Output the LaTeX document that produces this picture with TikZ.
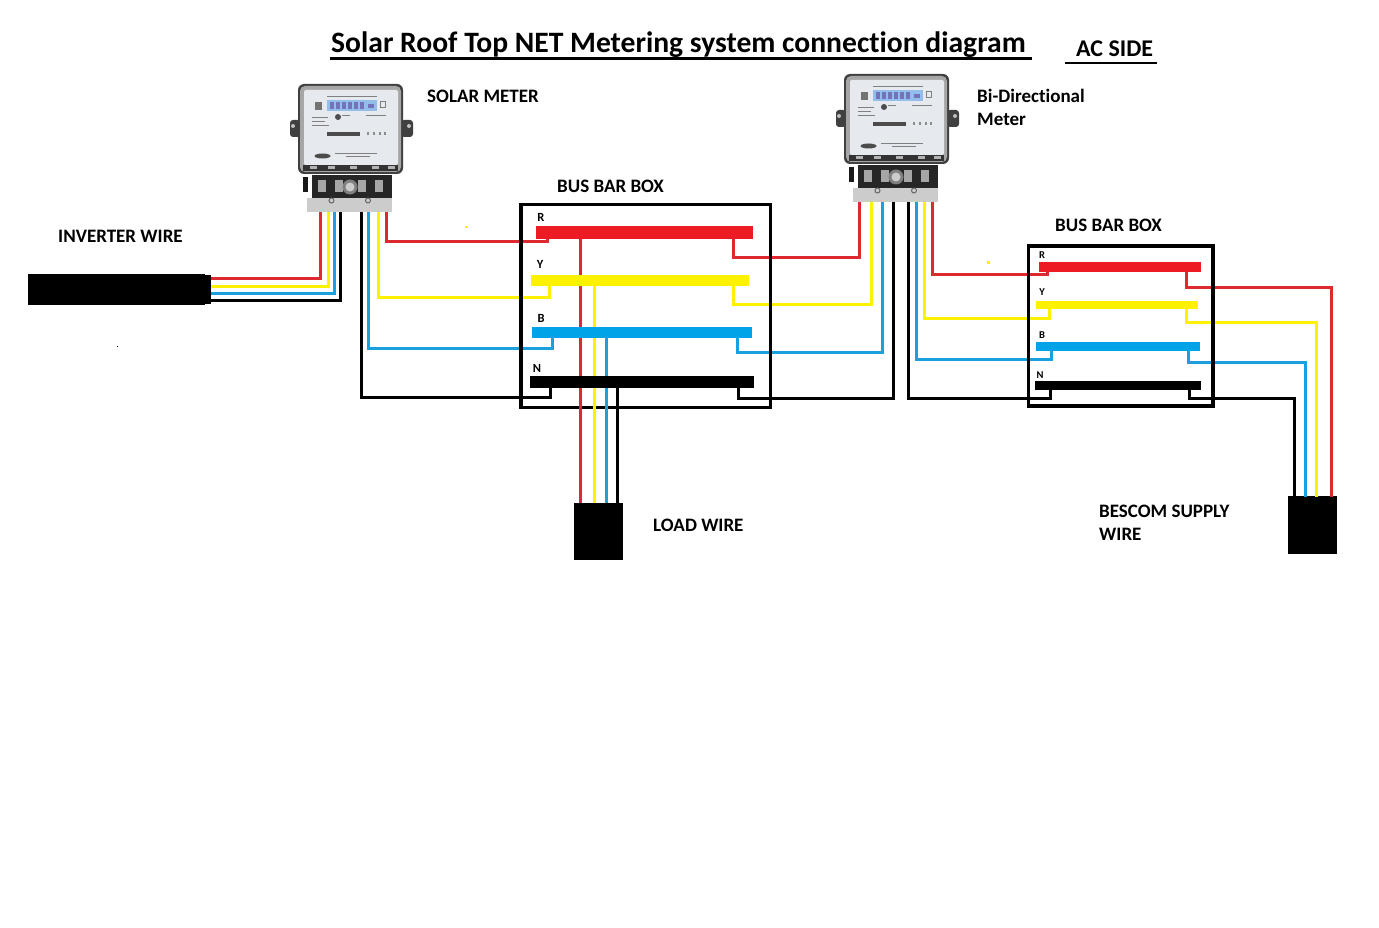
\documentclass[tikz,border=0pt]{standalone}
\usepackage{fontspec}
\setmainfont{Carlito}[Ligatures=NoCommon]
\usetikzlibrary{calc,positioning}
\definecolor{busred}{HTML}{ED1C24}
\definecolor{busyellow}{HTML}{FFF200}
\definecolor{busblue}{HTML}{00A2E8}
\definecolor{wirered}{HTML}{DC2A30}
\definecolor{wireblue}{HTML}{1AA0DC}
\definecolor{lcdblue}{HTML}{93BDEB}
\definecolor{faceplate}{HTML}{E6EAEF}
\begin{document}
\begin{tikzpicture}[x=1pt,y=-1pt]

\tikzset{wire/.style={line width=3pt},
wireR/.style={wire,color=wirered},
wireY/.style={wire,color=busyellow},
wireB/.style={wire,color=wireblue},
wireN/.style={wire,color=black},
busbar/.style={shape=rectangle,inner sep=0pt,minimum height=#1},
boxframe/.style={draw=black,line width=3.5pt,shape=rectangle,inner sep=0pt},
blackblock/.style={fill=black,shape=rectangle,inner sep=0pt},
caption/.style={font=\fontsize{19}{22}\selectfont\bfseries,anchor=base west,inner sep=0pt},
phase/.style={font=\fontsize{12.5}{14}\selectfont\bfseries,inner sep=0pt},
phasesmall/.style={font=\fontsize{10.5}{12}\selectfont\bfseries,inner sep=0pt},
energymeter/.pic={
  % ears and case
  \fill[black!75,rounded corners=3pt] (-8,36) rectangle (2,53); \fill[black!75,rounded corners=3pt] (103,36) rectangle (115,53);
  \fill[black!25] (-5,42) circle (2pt); \fill[black!25] (111,42) circle (2pt);
  \fill[black!75,rounded corners=6pt] (0,0) rectangle (105,90);
  \fill[black!35,rounded corners=5pt] (2,2) rectangle (103,88);
  \fill[faceplate,rounded corners=2pt] (6,6) rectangle (100,81);
  \fill[black!80] (5,81) rectangle (100,87);
  \foreach \x in {12,30,52,74,90} \fill[black!30] (\x,82) rectangle +(7,3);
  % display
  \fill[lcdblue] (29,16) rectangle (79,27);
  \foreach \x in {32,38,...,62} \fill[blue!50!black!55] (\x,18) rectangle +(4,7);
  \fill[blue!50!black!55] (70,20) rectangle +(6,4);
  \draw[black!50] (82,17) rectangle +(5,6);
  \fill[black!55] (17,18) rectangle +(7,8);
  % printed lines
  \foreach \y/\a/\b in {12/29/79,31/68/88,33/14/30,37/14/27,41/14/31,31/44/52,69/37/79,72/48/72} \fill[black!50] (\a,\y) rectangle (\b,\y+1.5);
  \fill[black!70] (29,48) rectangle (62,52);
  \foreach \x in {69,75,81,86} \fill[black!45] (\x,48.5) rectangle +(2,3);
  \fill[black!70] (40,33) circle (3pt);
  \fill[black!70] (24.5,72) ellipse (8pt and 2.5pt);
  % terminal block
  \fill[black!90] (5,93) rectangle (10,108);
  \fill[black!20] (9,114) rectangle (94,128);
  \fill[black!85] (14,91) rectangle (94,114);
  \foreach \x in {24,41,64,81} \fill[black!35] (\x-4,96) rectangle +(8,12);
  \fill[black!50] (52,103) circle (7.5pt);
  \fill[black!20] (52,103) circle (4.5pt);
  \foreach \x in {33.5,70} \draw[black!60,line width=1pt] (\x,116.5) circle (2.5pt);
}}

% Meters
\pic at (298,84) {energymeter};
\pic at (844,74) {energymeter};

% Labels
\node[caption,font=\fontsize{29.6}{34}\selectfont\bfseries] (title) at (331,53) {Solar Roof Top NET Metering system connection diagram};
\node[caption,font=\fontsize{24}{28}\selectfont\bfseries] (acside) at (1076,57) {AC SIDE};
\node[caption] (solarLabel) at (427,103) {SOLAR METER};
\node[caption] (bidirLabel) at (977,103) {Bi-Directional};
\node[caption] (bidirLabelB) at (977,126) {Meter};
\node[caption] (busLabelA) at (557,193) {BUS BAR BOX};
\node[caption] (busLabelB) at (1055,232) {BUS BAR BOX};
\node[caption] (inverterLabel) at (58,243) {INVERTER WIRE};
\node[caption] (loadLabel) at (653,531) {LOAD WIRE};
\node[caption] (bescomLabel) at (1099,517) {BESCOM SUPPLY};
\node[caption] (bescomLabelB) at (1099,540) {WIRE};

% Underlines
\coordinate (titleUa) at (330,59); \coordinate (titleUb) at (1032,59);
\coordinate (acUa) at (1065,63); \coordinate (acUb) at (1157,63);
\draw[line width=3pt] (titleUa) -- (titleUb);
\draw[line width=2.5pt] (acUa) -- (acUb);

% Cables
\node[blackblock,minimum width=177pt,minimum height=31pt] (inverter) at (116.5,289.5) {};
\node[blackblock,minimum width=6pt,minimum height=29pt] (inverterTip) at (208,289.5) {};
\node[blackblock,minimum width=49pt,minimum height=57pt] (load) at (598.5,531.5) {};
\node[blackblock,minimum width=49pt,minimum height=58pt] (bescom) at (1312.5,525) {};

% Bus bars, left box
\node[busbar=13pt,minimum width=217pt,fill=busred] (barR) at (644.5,232.5) {};
\node[busbar=11pt,minimum width=218pt,fill=busyellow] (barY) at (640,280.5) {};
\node[busbar=11pt,minimum width=220pt,fill=busblue] (barB) at (642,332.5) {};
\node[busbar=12pt,minimum width=224pt,fill=black] (barN) at (642,382) {};

% Bus bars, right box
\node[busbar=10pt,minimum width=162pt,fill=busred] (barRr) at (1120,267) {};
\node[busbar=8pt,minimum width=162pt,fill=busyellow] (barYr) at (1117,305) {};
\node[busbar=9pt,minimum width=164pt,fill=busblue] (barBr) at (1118,346.5) {};
\node[busbar=9pt,minimum width=166pt,fill=black] (barNr) at (1118,385.5) {};

% Wire ends
\foreach \n/\x in {R/320,Y/328,B/334,N/340.5} \coordinate (invIn\n) at (\x,212);
\foreach \n/\x in {N/361.5,B/368,Y/378,R/386} \coordinate (solarOut\n) at (\x,212);
\foreach \n/\x in {R/859,Y/871,B/882,N/893} \coordinate (bidirIn\n) at (\x,202);
\foreach \n/\x in {N/908,B/916,Y/924,R/932} \coordinate (bidirOut\n) at (\x,202);
\foreach \n/\y in {R/278,Y/286,B/293,N/300} \coordinate (invStart\n) at (211,\y);
\foreach \n/\x/\y in {R/547/242,Y/549/297,B/552/348,N/550/397} \coordinate (boxIn\n) at (\x,\y);
\foreach \n/\x/\y in {R/733/258,Y/733/304,B/737/352,N/738/398} \coordinate (boxOut\n) at (\x,\y);
\foreach \n/\x/\y in {R/1047/274,Y/1049/318,B/1051/359,N/1050/398} \coordinate (boxrIn\n) at (\x,\y);
\foreach \n/\x/\y in {R/1186/287,Y/1186/322,B/1188/362,N/1189/398} \coordinate (boxrOut\n) at (\x,\y);
\foreach \n/\x in {R/1331,Y/1316,B/1305,N/1294} \coordinate (bescomIn\n) at (\x,497);
\foreach \n/\x in {R/580,Y/594,B/606,N/617} \coordinate (loadIn\n) at (\x,503);

% Wires: inverter to solar meter, meters to boxes, box to supply
\foreach \n/\s/\b/\bb in {R/wireR/barR/barRr,Y/wireY/barY/barYr,B/wireB/barB/barBr,N/wireN/barN/barNr} {
  \draw[\s] (invStart\n) -| (invIn\n);
  \draw[\s] (solarOut\n) |- (boxIn\n) -- (boxIn\n |- \b.south);
  \draw[\s] (boxOut\n |- \b.south) -- (boxOut\n) -| (bidirIn\n);
  \draw[\s] (bidirOut\n) |- (boxrIn\n) -- (boxrIn\n |- \bb.south);
  \draw[\s] (boxrOut\n |- \bb.south) -- (boxrOut\n) -| (bescomIn\n);
}

% Box frames
\node[boxframe,minimum width=249.5pt,minimum height=202.5pt] (boxA) at (645.5,306) {};
\node[boxframe,minimum width=184.5pt,minimum height=159.5pt] (boxB) at (1120.5,326) {};

% Load wires
\draw[wireR] (barR.south -| loadInR) -- (loadInR);
\draw[wireY] (barY.south -| loadInY) -- (loadInY);
\draw[wireB] (barB.south -| loadInB) -- (loadInB);
\draw[wireN] (barN.south -| loadInN) -- (loadInN);

% Bars again, over the wires
\foreach \b/\c in {barR/busred,barY/busyellow,barB/busblue,barN/black,barRr/busred,barYr/busyellow,barBr/busblue,barNr/black}
  \fill[\c] (\b.south west) rectangle (\b.north east);

% Phase letters
\node[phase] (lR) at (541,217) {R}; \node[phase] (lY) at (540,264) {Y};
\node[phase] (lB) at (541,318) {B}; \node[phase] (lN) at (537,368) {N};
\node[phasesmall] (rR) at (1042,255) {R};
\node[phasesmall] (rY) at (1042,292) {Y};
\node[phasesmall] (rB) at (1042,335) {B};
\node[phasesmall] (rN) at (1040,375) {N};

% Stray specks
\fill[busyellow] (465,226) rectangle +(2.5,2.5);
\fill[busyellow] (987,261) rectangle +(2.5,2.5);
\fill[black] (117,346) rectangle +(1,1);

\useasboundingbox (0,0) rectangle (1379,928);
\end{tikzpicture}
\end{document}
